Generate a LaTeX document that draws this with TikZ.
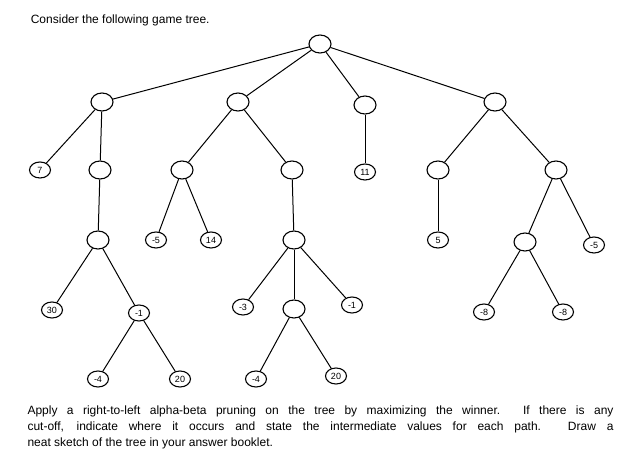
\documentclass[tikz,border=0pt]{standalone}
\usepackage{fontspec}
\setmainfont{Liberation Sans}
\usetikzlibrary{shapes.geometric}
\begin{document}
\begin{tikzpicture}[x=1pt,y=-1pt,
  nd/.style={draw,ellipse,line width=1.1pt,minimum width=22pt,minimum height=18pt,inner sep=0pt,font=\fontsize{9}{9}\selectfont},
  lf/.style={draw,ellipse,line width=1.1pt,minimum width=21pt,minimum height=16pt,inner sep=0pt,font=\fontsize{9}{9}\selectfont},
  every path/.style={line width=1pt}]
\useasboundingbox (0,0) rectangle (640,462);
\node[anchor=west,font=\fontsize{12}{14}\selectfont] (t1) at (27,20) {Consider the following game tree.};
\node[nd] (r) at (320,44) {};
\node[nd] (a) at (102,102) {};
\node[nd] (b) at (238,102) {};
\node[nd] (c) at (365,105) {};
\node[nd] (d) at (495,102) {};
\node[lf] (a1) at (40,170) {7};
\node[nd] (a2) at (100,170) {};
\node[nd] (b1) at (182,170) {};
\node[nd] (b2) at (292,170) {};
\node[lf] (c1) at (365,172) {11};
\node[nd] (d1) at (438,170) {};
\node[nd] (d2) at (556,170) {};
\node[nd] (a21) at (98,240) {};
\node[lf] (b11) at (156,240) {-5};
\node[lf] (b12) at (211,240) {14};
\node[nd] (b21) at (294,240) {};
\node[lf] (d11) at (438,240) {5};
\node[nd] (d21) at (525,242) {};
\node[lf] (d22) at (594,245) {-5};
\node[lf] (a211) at (52,310) {30};
\node[lf] (a212) at (139,313) {-1};
\node[lf] (b211) at (243,307) {-3};
\node[nd] (b212) at (294,309) {};
\node[lf] (b213) at (352,305) {-1};
\node[lf] (d211) at (484,312) {-8};
\node[lf] (d212) at (563,312) {-8};
\node[lf] (e1) at (98,379) {-4};
\node[lf] (e2) at (180,379) {20};
\node[lf] (f1) at (256,379) {-4};
\node[lf] (f2) at (336,376) {20};
\foreach \p/\q in {r/a,r/b,r/c,r/d,a/a1,a/a2,b/b1,b/b2,c/c1,d/d1,d/d2,a2/a21,b1/b11,b1/b12,b2/b21,d1/d11,d2/d21,d2/d22,a21/a211,a21/a212,b21/b211,b21/b212,b21/b213,d21/d211,d21/d212,a212/e1,a212/e2,b212/f1,b212/f2}
  \draw (\p) -- (\q);
\node[anchor=north west,text width=586pt,align=justify,inner sep=0pt,font=\fontsize{12}{16}\selectfont] (t2) at (27,405) {Apply a right-to-left alpha-beta pruning on the tree by maximizing the winner. If there is any\linebreak cut-off, indicate where it occurs and state the intermediate values for each path. Draw a\linebreak neat sketch of the tree in your answer booklet.};
\end{tikzpicture}
\end{document}
